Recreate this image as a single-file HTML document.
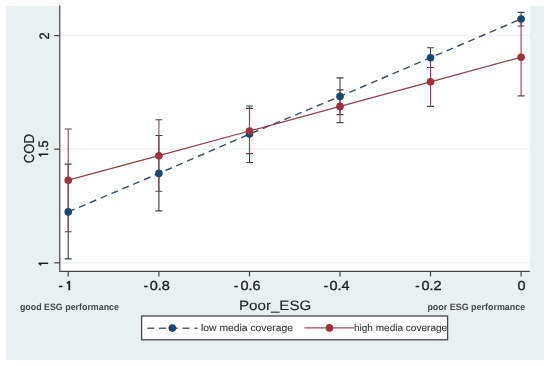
<!DOCTYPE html>
<html><head><meta charset="utf-8"><style>
html,body{margin:0;padding:0;background:#fff;}
svg{display:block;}
</style></head><body>
<svg width="550" height="366" viewBox="0 0 550 366" text-rendering="geometricPrecision">
<rect x="6" y="6" width="538" height="354" fill="#e8f0f2"/>
<rect x="59.6" y="0" width="470.4" height="271" fill="#fff"/>
<line x1="60" y1="35.6" x2="529.6" y2="35.6" stroke="#eff1f2" stroke-width="1.4"/>
<line x1="60" y1="149.2" x2="529.6" y2="149.2" stroke="#eff1f2" stroke-width="1.4"/>
<line x1="60" y1="262.8" x2="529.6" y2="262.8" stroke="#eff1f2" stroke-width="1.4"/>
<g stroke="#444" stroke-width="1.2" fill="none">
<path d="M59.8 5.5V271.3H529.8"/>
<path d="M54.2 35.6H59.8"/>
<path d="M54.2 149.2H59.8"/>
<path d="M54.2 262.8H59.8"/>
<path d="M68.2 271.3V276.4"/>
<path d="M158.9 271.3V276.4"/>
<path d="M249.5 271.3V276.4"/>
<path d="M340.0 271.3V276.4"/>
<path d="M430.5 271.3V276.4"/>
<path d="M521.1 271.3V276.4"/>
</g>
<g stroke="#2a4055" stroke-width="1.1" fill="none"><path d="M68.2 164.1V258.9"/><path d="M158.9 135.5V210.9"/><path d="M249.5 106.0V162.5"/><path d="M340.0 77.9V114.6"/><path d="M430.5 47.8V67.5"/><path d="M521.1 12.4V26.0"/></g><g stroke="#34434f" stroke-width="1.1" fill="none"><path d="M64.7 164.1H71.7M64.7 258.9H71.7"/><path d="M155.4 135.5H162.4M155.4 210.9H162.4"/><path d="M246.0 106.0H253.0M246.0 162.5H253.0"/><path d="M336.5 77.9H343.5M336.5 114.6H343.5"/><path d="M427.0 47.8H434.0M427.0 67.5H434.0"/><path d="M517.6 12.4H524.6M517.6 26.0H524.6"/></g>
<g stroke="#973e50" stroke-width="1.1" fill="none"><path d="M68.2 129.0V231.8"/><path d="M158.9 119.8V191.2"/><path d="M249.5 108.4V153.6"/><path d="M340.0 89.9V122.6"/><path d="M430.5 57.2V106.4"/><path d="M521.1 18.5V95.9"/></g><g stroke="#5a4146" stroke-width="1.1" fill="none"><path d="M64.7 129.0H71.7M64.7 231.8H71.7"/><path d="M155.4 119.8H162.4M155.4 191.2H162.4"/><path d="M246.0 108.4H253.0M246.0 153.6H253.0"/><path d="M336.5 89.9H343.5M336.5 122.6H343.5"/><path d="M427.0 57.2H434.0M427.0 106.4H434.0"/><path d="M517.6 18.5H524.6M517.6 95.9H524.6"/></g>
<polyline points="68.2,211.9 158.9,173.4 249.5,134.1 340.0,96.4 430.5,57.7 521.1,19.0" fill="none" stroke="#3c5366" stroke-width="1.45" stroke-dasharray="7 4.75"/>
<circle cx="68.2" cy="211.9" r="3.8" fill="#1a476f"/><circle cx="158.9" cy="173.4" r="3.8" fill="#1a476f"/><circle cx="249.5" cy="134.1" r="3.8" fill="#1a476f"/><circle cx="340.0" cy="96.4" r="3.8" fill="#1a476f"/><circle cx="430.5" cy="57.7" r="3.8" fill="#1a476f"/><circle cx="521.1" cy="19.0" r="3.8" fill="#1a476f"/>
<polyline points="68.2,180.2 158.9,155.7 249.5,131.0 340.0,106.4 430.5,81.8 521.1,57.2" fill="none" stroke="#913f48" stroke-width="1.2"/>
<circle cx="68.2" cy="180.2" r="3.8" fill="#9e323c"/><circle cx="158.9" cy="155.7" r="3.8" fill="#9e323c"/><circle cx="249.5" cy="131.0" r="3.8" fill="#9e323c"/><circle cx="340.0" cy="106.4" r="3.8" fill="#9e323c"/><circle cx="430.5" cy="81.8" r="3.8" fill="#9e323c"/><circle cx="521.1" cy="57.2" r="3.8" fill="#9e323c"/>
<g font-family="'Liberation Sans', Arial, sans-serif" fill="#1e1e1e" stroke="#1e1e1e" stroke-width="0.32">
<text transform="translate(48.6 36.0) rotate(-90) scale(1 1.08)" text-anchor="middle" font-size="12.6">2</text>
<text transform="translate(48.4 149.2) rotate(-90) scale(1 1.08)" text-anchor="middle" font-size="12.6"><tspan font-family="NanumGothic, sans-serif" font-weight="bold" font-size="90.8%">1</tspan>.5</text>
<text transform="translate(48.4 263.5) rotate(-90) scale(1 1.08)" text-anchor="middle" font-size="12.6"><tspan font-family="NanumGothic, sans-serif" font-weight="bold" font-size="90.8%">1</tspan></text>
<text x="58.4" y="289.6" font-size="13">-</text>
<text transform="translate(65.0 289.6) scale(1.1 1)" font-size="13.2"><tspan font-family="NanumGothic, sans-serif" font-weight="bold" font-size="90.8%">1</tspan></text>
<text x="143.8" y="289.6" font-size="13">-</text>
<text transform="translate(149.7 289.6) scale(1.1 1)" font-size="13.2">0.8</text>
<text x="234.1" y="289.6" font-size="13">-</text>
<text transform="translate(240.4 289.6) scale(1.1 1)" font-size="13.2">0.6</text>
<text x="323.8" y="289.6" font-size="13">-</text>
<text transform="translate(329.4 289.6) scale(1.1 1)" font-size="13.2">0.4</text>
<text x="415.3" y="289.6" font-size="13">-</text>
<text transform="translate(421.5 289.6) scale(1.1 1)" font-size="13.2">0.2</text>
<text transform="translate(517.5 289.6) scale(1.1 1)" font-size="13.2">0</text>
</g>
<g font-family="'Liberation Sans', Arial, sans-serif" fill="#222" stroke="#222" stroke-width="0.1">
<text transform="translate(34.2 148.5) rotate(-90) scale(1 1.1)" text-anchor="middle" font-size="13.2">COD</text>
<text x="239.0" y="309.7" font-size="13.6" textLength="72.3" lengthAdjust="spacingAndGlyphs">Poor_ESG</text>
</g>
<g font-family="'Liberation Sans', Arial, sans-serif" fill="#474747" font-weight="bold">
<text x="19.9" y="309.5" font-size="9.2" textLength="99.1" lengthAdjust="spacingAndGlyphs">good ESG performance</text>
<text x="427.4" y="309.5" font-size="9.2" textLength="97.8" lengthAdjust="spacingAndGlyphs">poor ESG performance</text>
</g>
<g font-family="'Liberation Sans', Arial, sans-serif" fill="#333" font-size="9.3" stroke="#333" stroke-width="0.08">
<rect x="141.6" y="316" width="306" height="23.8" fill="#fff"/>
<text x="201.0" y="331.3" font-size="9.8" textLength="92.0" lengthAdjust="spacingAndGlyphs">low media coverage</text>
<text x="353.9" y="331.3" font-size="9.8" textLength="93.3" lengthAdjust="spacingAndGlyphs">high media coverage</text>
</g>
<rect x="141.6" y="316" width="306" height="23.8" fill="none" stroke="#4a4a4a" stroke-width="1.3"/>
<line x1="147.3" y1="328.2" x2="197.5" y2="328.2" stroke="#4a6275" stroke-width="1.5" stroke-dasharray="7 4.75"/>
<circle cx="172.3" cy="328.1" r="3.8" fill="#1a476f"/>
<line x1="304.5" y1="327.9" x2="354" y2="327.9" stroke="#9c4a56" stroke-width="1.3"/>
<circle cx="329.5" cy="327.9" r="3.8" fill="#9e323c"/>
</svg>
</body></html>
